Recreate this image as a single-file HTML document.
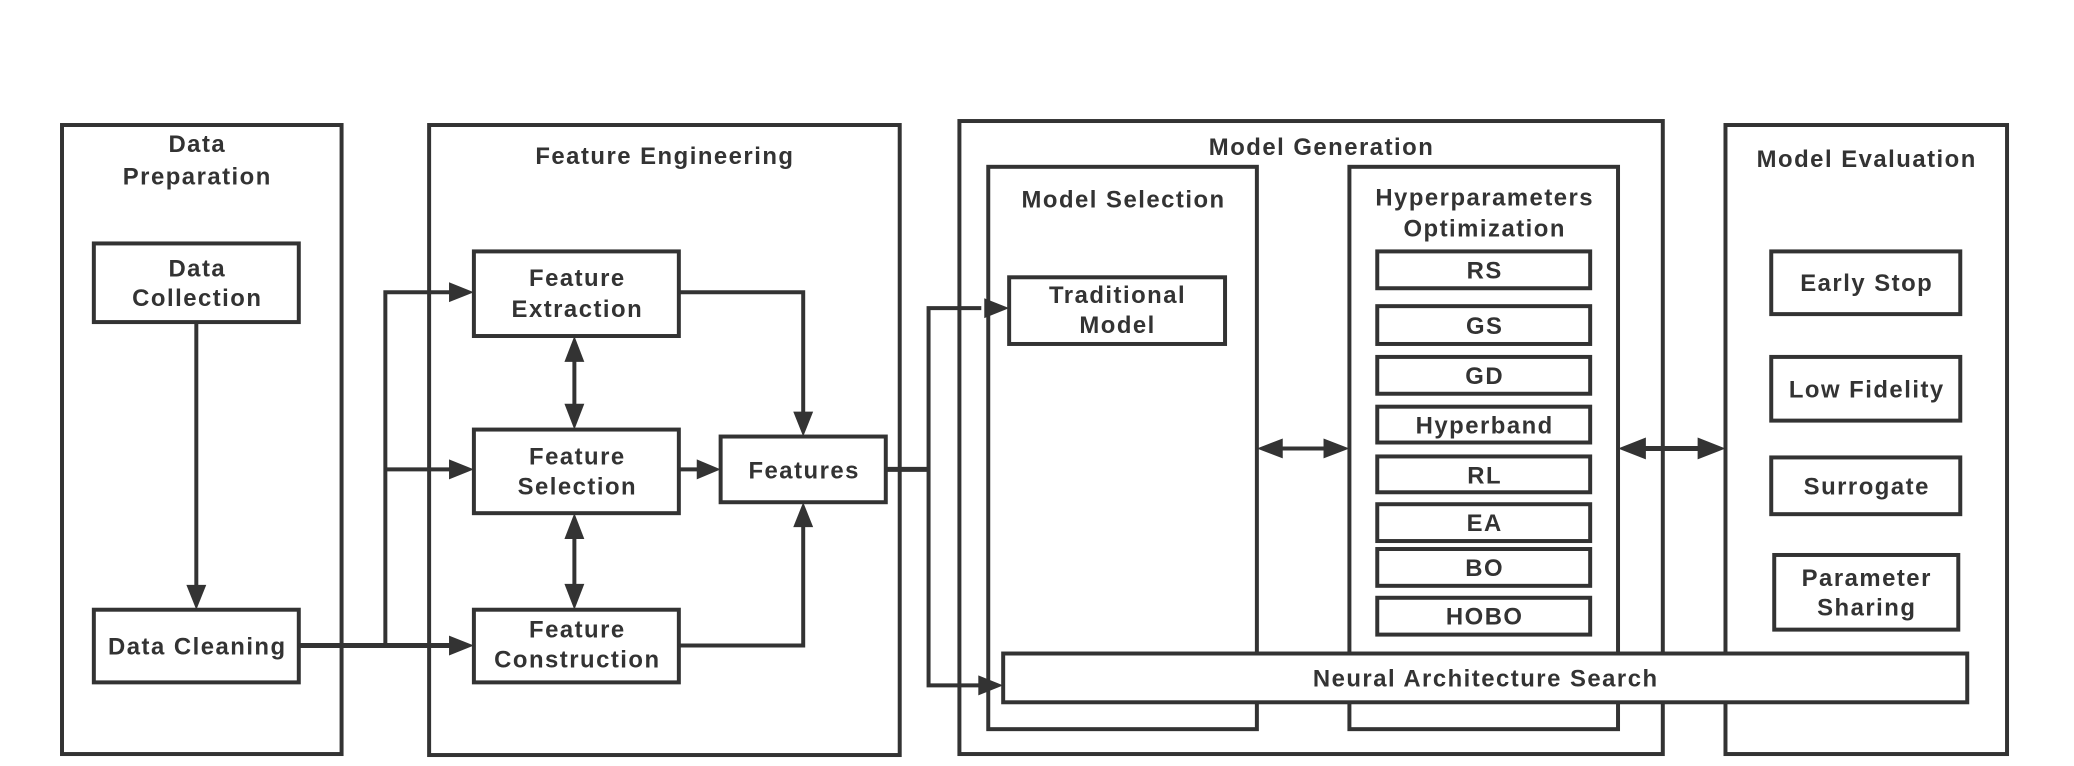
<!DOCTYPE html>
<html><head><meta charset="utf-8"><style>
html,body{margin:0;padding:0;background:#fff;}
svg{display:block;}
text{font-family:"Liberation Sans",Arial,sans-serif;font-weight:bold;fill:#333;font-size:24px;letter-spacing:1.5px;text-anchor:middle;}
</style></head><body>
<svg width="2074" height="766" viewBox="0 0 2074 766" xmlns="http://www.w3.org/2000/svg">
<g transform="matrix(0.9949 0 0 0.9953 0.32 -0.4)">
<g fill="none" stroke="#333" stroke-width="4">
<rect x="62" y="126" width="281" height="632"/>
<rect x="431" y="126" width="473" height="633"/>
<rect x="964" y="122" width="707" height="636"/>
<rect x="993" y="168" width="270" height="565"/>
<rect x="1356" y="168" width="270" height="565"/>
<rect x="1734" y="126" width="283" height="632"/>
<rect x="94" y="245" width="206" height="79"/>
<rect x="94" y="613" width="206" height="73"/>
<rect x="476" y="253" width="206" height="85"/>
<rect x="476" y="432" width="206" height="84"/>
<rect x="476" y="613" width="206" height="73"/>
<rect x="724" y="439" width="166" height="66"/>
<rect x="1014" y="279" width="217" height="67"/>
<rect x="1384" y="253" width="214" height="37"/>
<rect x="1384" y="308" width="214" height="38"/>
<rect x="1384" y="359" width="214" height="37"/>
<rect x="1384" y="409" width="214" height="36"/>
<rect x="1384" y="459" width="214" height="36"/>
<rect x="1384" y="507" width="214" height="37"/>
<rect x="1384" y="552" width="214" height="37"/>
<rect x="1384" y="601" width="214" height="37"/>
<rect x="1780" y="253" width="190" height="63"/>
<rect x="1780" y="359" width="190" height="64"/>
<rect x="1780" y="460" width="190" height="57"/>
<rect x="1783" y="558" width="185" height="75"/>
<rect x="1008" y="657" width="969" height="49" fill="#fff"/>
<polyline points="197,324 197,592"/>
<polyline points="300,649 455,649" stroke-width="5"/>
<polyline points="455,294 387,294 387,649"/>
<polyline points="387,472 455,472"/>
<polyline points="577,361 577,409"/>
<polyline points="577,540 577,590"/>
<polyline points="682,472 704,472"/>
<polyline points="682,294 807,294 807,418"/>
<polyline points="682,649 807,649 807,528"/>
<polyline points="890,472 933,472" stroke-width="5"/>
<polyline points="986,310 933,310 933,689 986,689"/>
<polyline points="1285,451 1334,451"/>
<polyline points="1650,451 1712,451" stroke-width="5"/>
</g>
<g fill="#333">
<polygon points="197,613 187,588 207,588"/>
<polygon points="476,294 451,284 451,304"/>
<polygon points="476,472 451,462 451,482"/>
<polygon points="476,649 451,639 451,659"/>
<polygon points="577,338 567,364 587,364"/>
<polygon points="577,432 567,406 587,406"/>
<polygon points="577,516 567,542 587,542"/>
<polygon points="577,613 567,587 587,587"/>
<polygon points="724,472 700,462 700,482"/>
<polygon points="807,439 797,414 817,414"/>
<polygon points="807,505 797,530 817,530"/>
<polygon points="1014,310 989,300 989,320"/>
<polygon points="1008,689 983,679 983,699"/>
<polygon points="1263,451 1289,441 1289,461"/>
<polygon points="1356,451 1330,441 1330,461"/>
<polygon points="1626,451 1654,440 1654,462"/>
<polygon points="1734,451 1706,440 1706,462"/>
</g>
<text x="198" y="153">Data</text>
<text x="198" y="186">Preparation</text>
<text x="198" y="278">Data</text>
<text x="198" y="308">Collection</text>
<text x="198" y="658">Data Cleaning</text>
<text x="668" y="165">Feature Engineering</text>
<text x="580" y="288">Feature</text>
<text x="580" y="319">Extraction</text>
<text x="580" y="467">Feature</text>
<text x="580" y="497">Selection</text>
<text x="580" y="641">Feature</text>
<text x="580" y="671">Construction</text>
<text x="808" y="481">Features</text>
<text x="1328" y="156">Model Generation</text>
<text x="1129" y="209">Model Selection</text>
<text x="1123" y="305">Traditional</text>
<text x="1123" y="335">Model</text>
<text x="1492" y="207">Hyperparameters</text>
<text x="1492" y="238">Optimization</text>
<text x="1492" y="280">RS</text>
<text x="1492" y="336">GS</text>
<text x="1492" y="386">GD</text>
<text x="1492" y="436">Hyperband</text>
<text x="1492" y="486">RL</text>
<text x="1492" y="534">EA</text>
<text x="1492" y="579">BO</text>
<text x="1492" y="628">HOBO</text>
<text x="1876" y="168">Model Evaluation</text>
<text x="1876" y="293">Early Stop</text>
<text x="1876" y="400">Low Fidelity</text>
<text x="1876" y="497">Surrogate</text>
<text x="1876" y="589">Parameter</text>
<text x="1876" y="619">Sharing</text>
<text x="1493" y="690">Neural Architecture Search</text>
</g>
</svg>
</body></html>
